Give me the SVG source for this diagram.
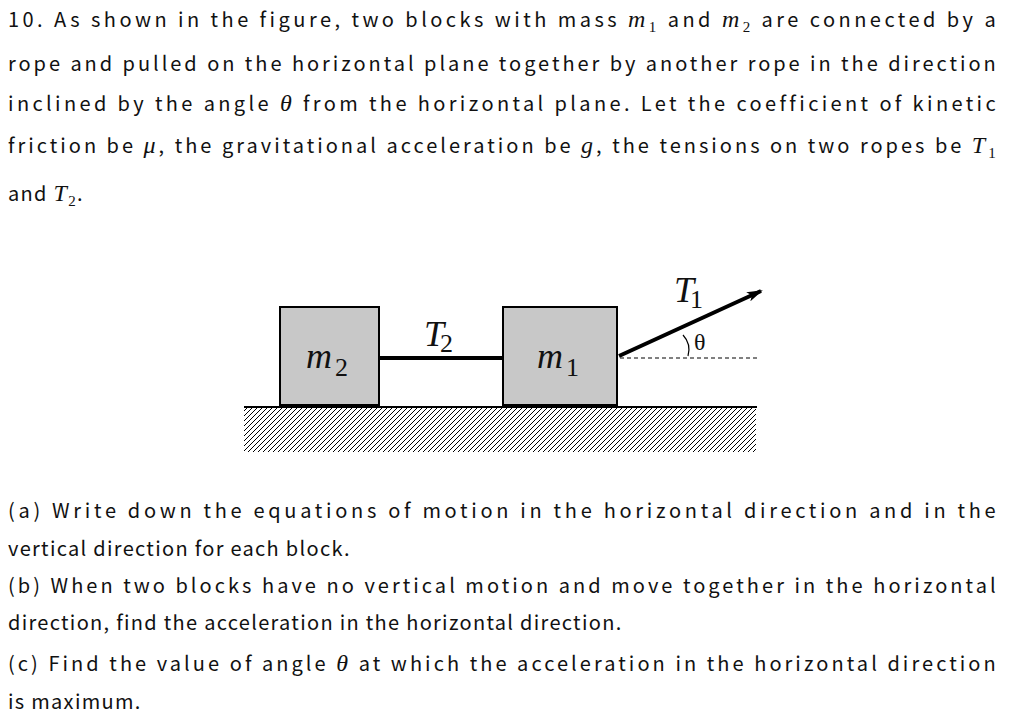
<svg xmlns="http://www.w3.org/2000/svg" width="1024" height="728" viewBox="0 0 1024 728">
<style>
.t{font-family:"Noto Sans CJK KR","Liberation Sans",sans-serif;font-size:20px;fill:#111;letter-spacing:1.3px}
.m{font-family:"Liberation Serif",serif;font-style:italic;font-size:24px}
.s{font-family:"Liberation Serif",serif;font-size:15px;font-style:normal}
.f{font-family:"Liberation Serif",serif;font-style:italic;font-size:36px;fill:#111}
.fs{font-family:"Liberation Serif",serif;font-size:26px;font-style:normal}
.blk{fill:#c8c8c8;stroke:#000;stroke-width:2}
</style>
<defs>
<pattern id="h" width="5" height="5" patternUnits="userSpaceOnUse"><path d="M0,5 L5,0" stroke="#000" stroke-width="1"/></pattern>
<marker id="a" markerWidth="16" markerHeight="10" refX="14" refY="5" orient="auto" markerUnits="userSpaceOnUse"><path d="M0,0 L16,5 L0,10 L4,5 z" fill="#000"/></marker>
</defs>
<rect width="1024" height="728" fill="#fff"/>
<text class="t" x="8" y="27" textLength="989" lengthAdjust="spacing">10. As shown in the figure, two blocks with mass <tspan class="m">m</tspan><tspan class="s" dy="5">1</tspan><tspan dy="-5"> and </tspan><tspan class="m">m</tspan><tspan class="s" dy="5">2</tspan><tspan dy="-5"> are connected by a</tspan></text>
<text class="t" x="8" y="71" textLength="989" lengthAdjust="spacing">rope and pulled on the horizontal plane together by another rope in the direction</text>
<text class="t" x="8" y="111" textLength="989" lengthAdjust="spacing">inclined by the angle <tspan class="m">θ</tspan> from the horizontal plane. Let the coefficient of kinetic</text>
<text class="t" x="8" y="153" textLength="989" lengthAdjust="spacing">friction be <tspan class="m">μ</tspan>, the gravitational acceleration be <tspan class="m">g</tspan>, the tensions on two ropes be <tspan class="m">T</tspan><tspan class="s" dy="5">1</tspan></text>
<text class="t" x="8" y="201">and <tspan class="m">T</tspan><tspan class="s" dy="5">2</tspan><tspan dy="-5">.</tspan></text>

<g id="ground">
<rect x="244" y="408" width="512" height="44" fill="url(#h)"/>
<line x1="244" y1="407" x2="757" y2="407" stroke="#000" stroke-width="2"/>
</g>
<g id="connectors">
<line x1="379" y1="358" x2="502" y2="358" stroke="#000" stroke-width="4"/>
<line x1="620" y1="358" x2="758" y2="358" stroke="#000" stroke-width="1" stroke-dasharray="4,3"/>
<line x1="619" y1="356" x2="761" y2="291" stroke="#000" stroke-width="4" marker-end="url(#a)"/>
<path d="M683,335 A22,22 0 0 1 688,356" fill="none" stroke="#000" stroke-width="1.2"/>
</g>
<g id="m2"><rect class="blk" x="280" y="307" width="99" height="98"/><text class="f" x="306" y="368">m<tspan class="fs" dx="3" dy="8">2</tspan></text></g>
<g id="m1"><rect class="blk" x="503" y="307" width="114" height="98"/><text class="f" x="537" y="368">m<tspan class="fs" dx="3" dy="8">1</tspan></text></g>
<text class="f" x="424" y="346">T<tspan class="fs" dx="-4" dy="6">2</tspan></text>
<text class="f" x="674" y="302">T<tspan class="fs" dx="-4" dy="6">1</tspan></text>
<text x="694" y="350" font-family="Liberation Serif,serif" font-size="24" fill="#111">θ</text>

<text class="t" x="8" y="518" textLength="989" lengthAdjust="spacing">(a) Write down the equations of motion in the horizontal direction and in the</text>
<text class="t" x="8" y="556">vertical direction for each block.</text>
<text class="t" x="8" y="593" textLength="989" lengthAdjust="spacing">(b) When two blocks have no vertical motion and move together in the horizontal</text>
<text class="t" x="8" y="630">direction, find the acceleration in the horizontal direction.</text>
<text class="t" x="8" y="671" textLength="989" lengthAdjust="spacing">(c) Find the value of angle <tspan class="m">θ</tspan> at which the acceleration in the horizontal direction</text>
<text class="t" x="8" y="709">is maximum.</text>
</svg>
